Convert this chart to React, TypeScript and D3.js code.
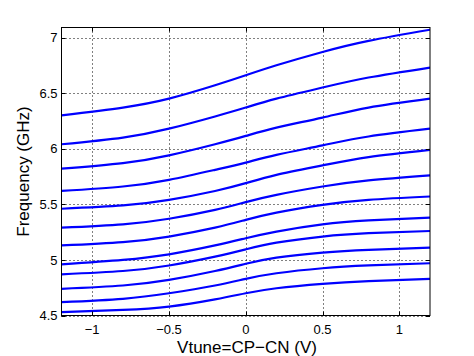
import React from "react";
import * as d3 from "d3";

const xPoints = [-1.2, -0.8, -0.5, -0.2, 0, 0.2, 0.5, 0.8, 1.2];
const curve1 = [6.30, 6.37, 6.45, 6.57, 6.66, 6.75, 6.87, 6.97, 7.07];
const curve2 = [6.04, 6.10, 6.18, 6.29, 6.37, 6.45, 6.55, 6.64, 6.73];
const curve3 = [5.82, 5.87, 5.94, 6.04, 6.115, 6.19, 6.28, 6.37, 6.45];
const curve4 = [5.62, 5.66, 5.72, 5.81, 5.875, 5.945, 6.03, 6.11, 6.18];
const curve5 = [5.46, 5.49, 5.54, 5.62, 5.69, 5.765, 5.85, 5.925, 5.99];
const curve6 = [5.29, 5.32, 5.37, 5.45, 5.52, 5.585, 5.66, 5.715, 5.76];
const curve7 = [5.13, 5.16, 5.21, 5.29, 5.36, 5.425, 5.495, 5.54, 5.57];
const curve8 = [4.96, 5.00, 5.05, 5.13, 5.195, 5.255, 5.32, 5.355, 5.38];
const curve9 = [4.87, 4.90, 4.95, 5.03, 5.095, 5.155, 5.21, 5.24, 5.26];
const curve10 = [4.74, 4.77, 4.82, 4.90, 4.965, 5.02, 5.065, 5.09, 5.11];
const curve11 = [4.62, 4.65, 4.70, 4.77, 4.83, 4.88, 4.925, 4.95, 4.97];
const curve12 = [4.53, 4.55, 4.58, 4.645, 4.70, 4.745, 4.785, 4.81, 4.83];
const seriesList = [curve1, curve2, curve3, curve4, curve5, curve6, curve7, curve8, curve9, curve10, curve11, curve12];

const xTicks = [-1, -0.5, 0, 0.5, 1];
const yTicks = [4.5, 5, 5.5, 6, 6.5, 7];
const xLabel = "Vtune=CP\u2212CN (V)";
const yLabel = "Frequency (GHz)";

const fmt = (v: number) => String(v).replace("-", "\u2212");

export default function App() {
  const W = 474, H = 356;
  const L = 61.5, R = 430, T = 27.5, B = 315.5;
  const x = d3.scaleLinear().domain([-1.2, 1.2]).range([L, R]);
  const y = d3.scaleLinear().domain([4.5, 7.09]).range([B, T]);
  const line = d3
    .line<number>()
    .x((_, i) => x(xPoints[i]))
    .y((d) => y(d))
    .curve(d3.curveNatural);
  const font = "Liberation Sans, Arial, Helvetica, sans-serif";
  const tickLen = 4;
  return (
    <svg width={W} height={H} style={{ position: "absolute", left: 0, top: 0, background: "#fff" }}>
      <rect x={0} y={0} width={W} height={H} fill="#fff" />
      <defs>
        <clipPath id="plotclip">
          <rect x={L} y={T - 3} width={R - L} height={B - T + 3} />
        </clipPath>
      </defs>
      {xTicks.map((t) => (
        <line key={"gx" + t} x1={Math.round(x(t)) + 0.5} x2={Math.round(x(t)) + 0.5} y1={T} y2={B}
          stroke="#000" strokeWidth={1} strokeDasharray="1,3" />
      ))}
      {yTicks.map((t) => (
        <line key={"gy" + t} x1={L} x2={R} y1={Math.round(y(t)) + 0.5} y2={Math.round(y(t)) + 0.5}
          stroke="#000" strokeWidth={1} strokeDasharray="1,3" />
      ))}
      <g clipPath="url(#plotclip)">
        {seriesList.map((s, i) => (
          <path key={"c" + i} d={line(s) || ""} fill="none" stroke="#0000ff" strokeWidth={2.2} />
        ))}
      </g>
      <rect x={L} y={T} width={R - L} height={B - T} fill="none" stroke="#000" strokeWidth={1} />
      {xTicks.map((t) => (
        <g key={"tx" + t}>
          <line x1={Math.round(x(t)) + 0.5} x2={Math.round(x(t)) + 0.5} y1={B} y2={B - tickLen} stroke="#000" />
          <line x1={Math.round(x(t)) + 0.5} x2={Math.round(x(t)) + 0.5} y1={T} y2={T + tickLen} stroke="#000" />
          <text x={x(t)} y={333.5} textAnchor="middle" fontFamily={font} fontSize={13} fill="#000">
            {fmt(t)}
          </text>
        </g>
      ))}
      {yTicks.map((t) => (
        <g key={"ty" + t}>
          <line x1={L} x2={L + tickLen} y1={Math.round(y(t)) + 0.5} y2={Math.round(y(t)) + 0.5} stroke="#000" />
          <line x1={R} x2={R - tickLen} y1={Math.round(y(t)) + 0.5} y2={Math.round(y(t)) + 0.5} stroke="#000" />
          <text x={57.5} y={y(t) + 4.7} textAnchor="end" fontFamily={font} fontSize={13} fill="#000">
            {fmt(t)}
          </text>
        </g>
      ))}
      <text x={247} y={352.5} textAnchor="middle" fontFamily={font} fontSize={17} fill="#000">
        {xLabel}
      </text>
      <text transform={`translate(28.5, ${(T + B) / 2}) rotate(-90)`} textAnchor="middle" fontFamily={font}
        fontSize={17} fill="#000">
        {yLabel}
      </text>
    </svg>
  );
}
